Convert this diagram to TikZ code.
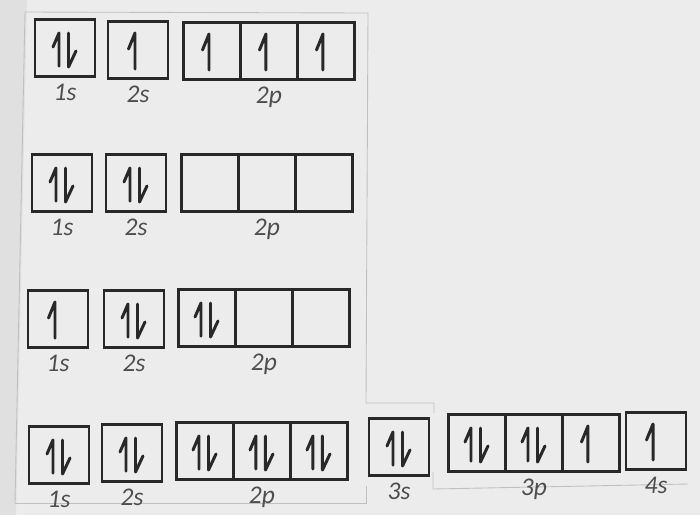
\documentclass[tikz,border=0pt]{standalone}
\usepackage{fontspec}
\setsansfont{Carlito}
\usetikzlibrary{positioning}
\definecolor{orbInk}{RGB}{40,40,40}
\definecolor{orbText}{RGB}{78,78,78}
\definecolor{paperGray}{RGB}{237,236,236}
\definecolor{paperDark}{RGB}{225,224,224}
\definecolor{paperLine}{RGB}{192,192,192}
\tikzset{
    orb/.style={
        draw=orbInk,
        line width=1.5pt,
        minimum width=1.2cm,
        minimum height=1.14cm,
        inner sep=0pt,
        outer sep=0pt
    },
    cell/.style={
        orb,
        minimum width=1.14cm
    },
    sublabel/.style={
        font=\sffamily\itshape\fontsize{14.5}{16}\selectfont,
        text=orbText,
        inner sep=1pt
    },
    spin/.style={
        draw=orbInk,
        line width=1.7pt,
        line cap=round,
        line join=round
    },
    edge/.style={
        draw=paperLine,
        line width=0.5pt
    },
    pics/pair/.style={code={
        \draw[spin] (-6,18) -- (-6,-15) -- (-12,-1);
        \draw[spin] (3.5,-15) -- (3.5,19) -- (11,3);
    }},
    pics/single/.style={code={
        \draw[spin] (-3,19) -- (-3,-17) -- (-9.5,-1);
    }}
}

\begin{document}
\begin{tikzpicture}[x=0.02cm, y=-0.02cm]
  % Paper
  \fill[paperGray] (0,0) rectangle (700,515);
  \fill[paperDark] (0,0) -- (27,0) -- (16,515) -- (0,515) -- cycle;
  \useasboundingbox (0,0) rectangle (700,515);
  \draw[edge] (15,503) -- (25,12) -- (368,13) -- (366,403) -- (434,403) -- (434,413);
  \draw[edge] (15,503) -- (366,503) -- (366,486);
  \draw[edge] (433,472) -- (433,489) -- (688,484);

  % Row one
  \node[orb] (a1s) at (65,48) {};
  \pic at (a1s) {pair};
  \node[sublabel, below=3pt of a1s] (la1s) {1s};
  \node[orb] (a2s) at (138,50) {};
  \pic at (a2s) {single};
  \node[sublabel, below=3pt of a2s] (la2s) {2s};
  \node[cell] (a2px) at (212,51) {};
  \node[cell, right=0pt of a2px] (a2py) {};
  \node[cell, right=0pt of a2py] (a2pz) {};
  \pic at (a2px) {single};
  \pic at (a2py) {single};
  \pic at (a2pz) {single};
  \node[sublabel, below=3pt of a2py] (la2p) {2p};

  % Row two
  \node[orb] (b1s) at (62,183) {};
  \pic at (b1s) {pair};
  \node[sublabel, below=3pt of b1s] (lb1s) {1s};
  \node[orb] (b2s) at (136,183) {};
  \pic at (b2s) {pair};
  \node[sublabel, below=3pt of b2s] (lb2s) {2s};
  \node[cell] (b2px) at (210,183) {};
  \node[cell, right=0pt of b2px] (b2py) {};
  \node[cell, right=0pt of b2py] (b2pz) {};
  \node[sublabel, below=3pt of b2py] (lb2p) {2p};

  % Row three
  \node[orb] (c1s) at (58,319) {};
  \pic at (c1s) {single};
  \node[sublabel, below=3pt of c1s] (lc1s) {1s};
  \node[orb] (c2s) at (134,319) {};
  \pic at (c2s) {pair};
  \node[sublabel, below=3pt of c2s] (lc2s) {2s};
  \node[cell] (c2px) at (207,318) {};
  \node[cell, right=0pt of c2px] (c2py) {};
  \node[cell, right=0pt of c2py] (c2pz) {};
  \pic at (c2px) {pair};
  \node[sublabel, below=3pt of c2py] (lc2p) {2p};

  % Row four
  \node[orb] (d1s) at (59,455) {};
  \pic at (d1s) {pair};
  \node[sublabel, below=3pt of d1s] (ld1s) {1s};
  \node[orb] (d2s) at (132,453) {};
  \pic at (d2s) {pair};
  \node[sublabel, below=3pt of d2s] (ld2s) {2s};
  \node[cell] (d2px) at (205,451) {};
  \node[cell, right=0pt of d2px] (d2py) {};
  \node[cell, right=0pt of d2py] (d2pz) {};
  \pic at (d2px) {pair};
  \pic at (d2py) {pair};
  \pic at (d2pz) {pair};
  \node[sublabel, below=3pt of d2py] (ld2p) {2p};
  \node[orb] (d3s) at (399,447) {};
  \pic at (d3s) {pair};
  \node[sublabel, below=3pt of d3s] (ld3s) {3s};
  \node[cell] (d3px) at (477,443) {};
  \node[cell, right=0pt of d3px] (d3py) {};
  \node[cell, right=0pt of d3py] (d3pz) {};
  \pic at (d3px) {pair};
  \pic at (d3py) {pair};
  \pic at (d3pz) {single};
  \node[sublabel, below=3pt of d3py] (ld3p) {3p};
  \node[orb] (d4s) at (656,441) {};
  \pic at (d4s) {single};
  \node[sublabel, below=3pt of d4s] (ld4s) {4s};
\end{tikzpicture}
\end{document}
